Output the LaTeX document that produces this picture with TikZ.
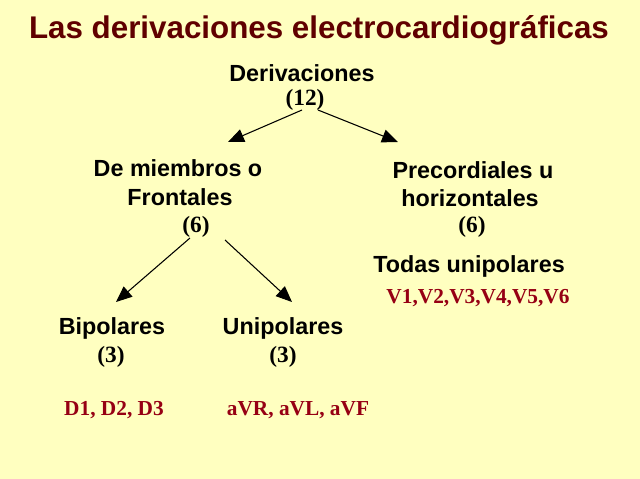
\documentclass[tikz,border=0pt]{standalone}
\usepackage{fontspec}
\setmainfont{Liberation Sans}
\newfontfamily\serif{Liberation Serif}
\usetikzlibrary{arrows.meta}
\definecolor{bg}{RGB}{255,255,192}
\definecolor{ttl}{RGB}{96,0,0}
\definecolor{rd}{RGB}{150,0,20}
\tikzset{lbl/.style={font=\bfseries\fontsize{17.5}{20}\selectfont,inner sep=0pt},
num/.style={font=\serif\bfseries\fontsize{17.5}{20}\selectfont,inner sep=0pt},
red/.style={font=\serif\bfseries\fontsize{16}{18}\selectfont,text=rd,inner sep=0pt},
arr/.style={-{Triangle[length=12pt,width=10pt]},line width=0.8pt}}
\begin{document}
\begin{tikzpicture}[x=0.75pt,y=-0.75pt]
\fill[bg] (0,0) rectangle (640,479);
\useasboundingbox (0,0) rectangle (640,479);
\node[font=\bfseries\fontsize{23.5}{26}\selectfont,text=ttl,inner sep=0pt] (t) at (319,30) {Las derivaciones electrocardiográficas};
\node[lbl] (d) at (302,73) {Derivaciones};
\node[num] (d2) at (305,100) {(12)};
\node[lbl] (m1) at (178,168) {De miembros o};
\node[lbl] (m2) at (180,197) {Frontales};
\node[num] (m3) at (196,227) {(6)};
\node[lbl] (p1) at (473,170) {Precordiales u};
\node[lbl] (p2) at (470,198) {horizontales};
\node[num] (p3) at (472,227) {(6)};
\node[lbl] (tu) at (469,266) {Todas unipolares};
\node[red] (v) at (478,298) {V1,V2,V3,V4,V5,V6};
\node[lbl] (b1) at (112,328) {Bipolares};
\node[num] (b2) at (111,357) {(3)};
\node[lbl] (u1) at (283,328) {Unipolares};
\node[num] (u2) at (283,357) {(3)};
\node[red] (bd) at (114,410) {D1, D2, D3};
\node[red] (ud) at (298,410) {aVR, aVL, aVF};
\coordinate (a1) at (302,110); \coordinate (a2) at (228,142);
\coordinate (a3) at (318,110); \coordinate (a4) at (398,142);
\coordinate (a5) at (190,238); \coordinate (a6) at (116,302);
\coordinate (a7) at (225,240); \coordinate (a8) at (292,302);
\draw[arr] (a1)--(a2); \draw[arr] (a3)--(a4);
\draw[arr] (a5)--(a6); \draw[arr] (a7)--(a8);
\end{tikzpicture}
\end{document}
